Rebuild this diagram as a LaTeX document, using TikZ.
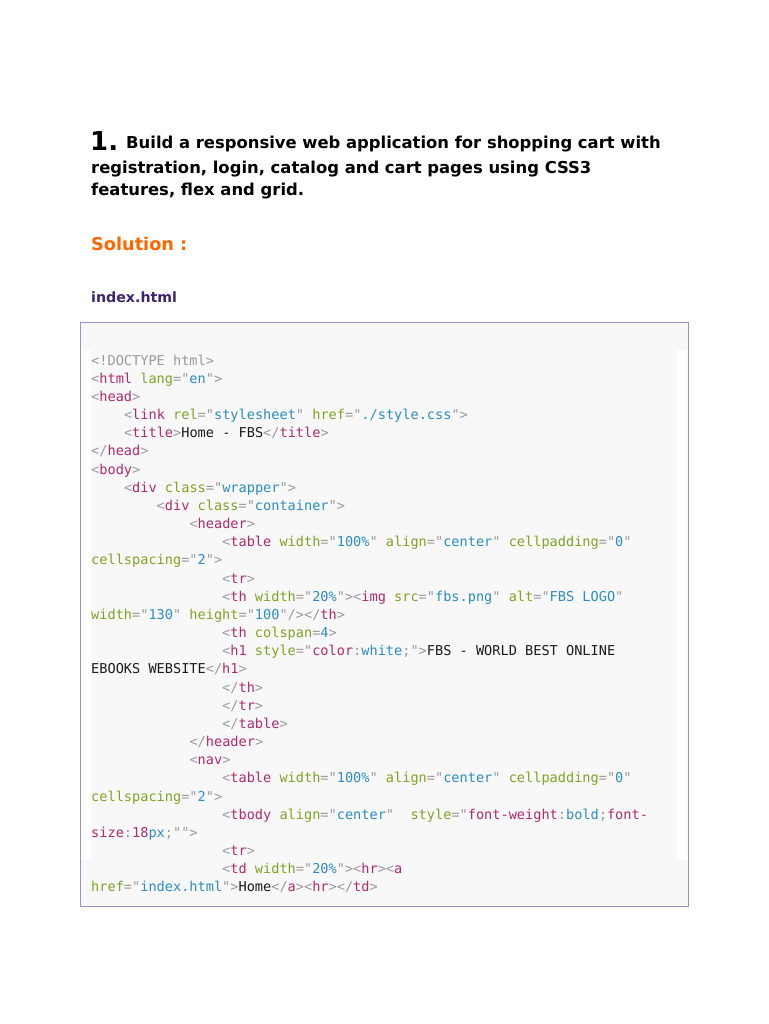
\documentclass[tikz,border=0pt]{standalone}
\usepackage{fontspec}
\setmainfont{Liberation Sans}
\newfontfamily\codefont{DejaVu Sans Mono}
\newfontfamily\headfont{DejaVu Sans}
\definecolor{tagcol}{HTML}{B02A6E}
\definecolor{attcol}{HTML}{7FA324}
\definecolor{valcol}{HTML}{2B8DC0}
\definecolor{puncol}{HTML}{9A9A9A}
\definecolor{txtcol}{HTML}{1A1A1A}
\definecolor{boxcol}{HTML}{A48CC8}
\definecolor{panelcol}{HTML}{F8F8F8}
\definecolor{solcol}{HTML}{FF6600}
\definecolor{filecol}{HTML}{3E2273}
\newcommand\cpun[1]{\textcolor{puncol}{#1}}
\newcommand\ctag[1]{\textcolor{tagcol}{#1}}
\newcommand\catt[1]{\textcolor{attcol}{#1}}
\newcommand\cval[1]{\textcolor{valcol}{#1}}
\newcommand\otag[1]{\cpun{<}\ctag{#1}}
\newcommand\etag[1]{\cpun{</}\ctag{#1}\cpun{>}}
\newcommand\attv[2]{\catt{#1}\cpun{="}\cval{#2}\cpun{"}}
\begin{document}
\begin{tikzpicture}[x=1pt,y=-1pt,
    code/.style={anchor=base west, inner sep=0pt, text=txtcol,
      font=\codefont\fontsize{13.6}{16}\selectfont},
    head/.style={anchor=base west, inner sep=0pt,
      font=\headfont\bfseries\fontsize{16.4}{20}\selectfont}]
  \useasboundingbox (0,0) rectangle (768,1024);

  % question
  \node[head, font=\headfont\bfseries\fontsize{26}{28}\selectfont] (num) at (90,151) {1.};
  \node[head] (q1) at (126,149) {Build a responsive web application for shopping cart with};
  \node[head] (q2) at (91,174) {registration, login, catalog and cart pages using CSS3};
  \node[head] (q3) at (91,195.5) {features, flex and grid.};
  \node[head, text=solcol, font=\headfont\bfseries\fontsize{17.7}{20}\selectfont] (sol) at (91,250.5) {Solution :};
  \node[head, text=filecol, font=\headfont\bfseries\fontsize{14.2}{17}\selectfont] (file) at (91,302) {index.html};

  % code box
  \draw[boxcol, fill=panelcol, line width=1pt] (80,322) rectangle (688,906);
  \fill[white] (81,350) rectangle (90.5,860);
  \fill[white] (677,350) rectangle (687,860);

  \node[code] (l1) at (91,365.0) {\cpun{<!DOCTYPE html>}};
  \node[code] (l2) at (91,383.2) {\otag{html} \attv{lang}{en}\cpun{>}};
  \node[code] (l3) at (91,401.3) {\otag{head}\cpun{>}};
  \node[code] (l4) at (123.8,419.5) {\otag{link} \attv{rel}{stylesheet} \attv{href}{./style.css}\cpun{>}};
  \node[code] (l5) at (123.8,437.7) {\otag{title}\cpun{>}Home - FBS\etag{title}};
  \node[code] (l6) at (91,455.9) {\etag{head}};
  \node[code] (l7) at (91,474.0) {\otag{body}\cpun{>}};
  \node[code] (l8) at (123.8,492.2) {\otag{div} \attv{class}{wrapper}\cpun{>}};
  \node[code] (l9) at (156.5,510.4) {\otag{div} \attv{class}{container}\cpun{>}};
  \node[code] (l10) at (189.3,528.5) {\otag{header}\cpun{>}};
  \node[code] (l11) at (222.0,546.7) {\otag{table} \attv{width}{100\%} \attv{align}{center} \attv{cellpadding}{0}};
  \node[code] (l12) at (91,564.9) {\attv{cellspacing}{2}\cpun{>}};
  \node[code] (l13) at (222.0,583.0) {\otag{tr}\cpun{>}};
  \node[code] (l14) at (222.0,601.2) {\otag{th} \attv{width}{20\%}\cpun{>}\otag{img} \attv{src}{fbs.png} \attv{alt}{FBS LOGO}};
  \node[code] (l15) at (91,619.4) {\attv{width}{130} \attv{height}{100}\cpun{/>}\etag{th}};
  \node[code] (l16) at (222.0,637.6) {\otag{th} \catt{colspan}\cpun{=}\cval{4}\cpun{>}};
  \node[code] (l17) at (222.0,655.7) {\otag{h1} \catt{style}\cpun{="}\ctag{color}\cpun{:}\cval{white}\cpun{;">}FBS - WORLD BEST ONLINE};
  \node[code] (l18) at (91,673.9) {EBOOKS WEBSITE\etag{h1}};
  \node[code] (l19) at (222.0,692.1) {\etag{th}};
  \node[code] (l20) at (222.0,710.2) {\etag{tr}};
  \node[code] (l21) at (222.0,728.4) {\etag{table}};
  \node[code] (l22) at (189.3,746.6) {\etag{header}};
  \node[code] (l23) at (189.3,764.7) {\otag{nav}\cpun{>}};
  \node[code] (l24) at (222.0,782.9) {\otag{table} \attv{width}{100\%} \attv{align}{center} \attv{cellpadding}{0}};
  \node[code] (l25) at (91,801.1) {\attv{cellspacing}{2}\cpun{>}};
  \node[code] (l26) at (222.0,819.3) {\otag{tbody} \attv{align}{center}\ \ \catt{style}\cpun{="}\ctag{font-weight}\cpun{:}\cval{bold}\cpun{;}\ctag{font-}};
  \node[code] (l27) at (91,837.4) {\ctag{size}\cpun{:}\ctag{18}\cval{px}\cpun{;"">}};
  \node[code] (l28) at (222.0,855.6) {\otag{tr}\cpun{>}};
  \node[code] (l29) at (222.0,873.8) {\otag{td} \attv{width}{20\%}\cpun{>}\otag{hr}\cpun{>}\otag{a}};
  \node[code] (l30) at (91,891.9) {\attv{href}{index.html}\cpun{>}Home\etag{a}\otag{hr}\cpun{>}\etag{td}};
\end{tikzpicture}
\end{document}
